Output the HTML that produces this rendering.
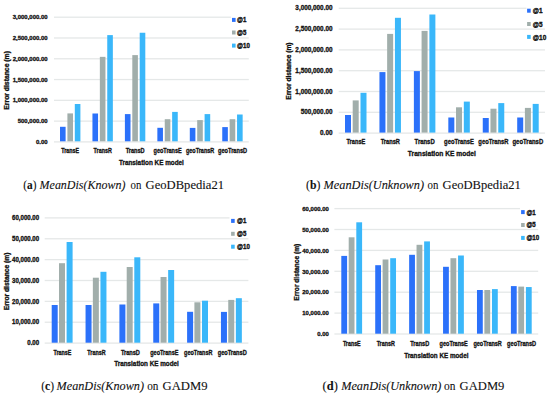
<!DOCTYPE html>
<html><head><meta charset="utf-8"><style>
html,body{margin:0;padding:0;background:#fff;}
body{width:550px;height:396px;overflow:hidden;}
svg{display:block;}
text{stroke:#111;stroke-width:0.3px;font-family:"Liberation Sans",sans-serif;}
text.cap{stroke:#111;stroke-width:0.1px;font-family:"Liberation Serif",serif;}
text.leg{stroke-width:0.35px;}
</style></head><body>
<svg width="550" height="396" viewBox="0 0 550 396">
<rect width="550" height="396" fill="#fff"/>
<g font-weight="bold" fill="#111">
<rect x="54.00" y="141.25" width="194.80" height="1.3" fill="#e5e8e8"/>
<text x="35.99" y="143.94" font-size="6.22" textLength="11.71" lengthAdjust="spacingAndGlyphs">0.00</text>
<rect x="54.00" y="120.47" width="194.80" height="1.3" fill="#e5e8e8"/>
<text x="17.69" y="123.16" font-size="6.22" textLength="30.01" lengthAdjust="spacingAndGlyphs">500,000.00</text>
<rect x="54.00" y="99.68" width="194.80" height="1.3" fill="#e5e8e8"/>
<text x="12.68" y="102.37" font-size="6.22" textLength="35.02" lengthAdjust="spacingAndGlyphs">1,000,000.00</text>
<rect x="54.00" y="78.90" width="194.80" height="1.3" fill="#e5e8e8"/>
<text x="12.68" y="81.59" font-size="6.22" textLength="35.02" lengthAdjust="spacingAndGlyphs">1,500,000.00</text>
<rect x="54.00" y="58.12" width="194.80" height="1.3" fill="#e5e8e8"/>
<text x="12.68" y="60.81" font-size="6.22" textLength="35.02" lengthAdjust="spacingAndGlyphs">2,000,000.00</text>
<rect x="54.00" y="37.33" width="194.80" height="1.3" fill="#e5e8e8"/>
<text x="12.68" y="40.02" font-size="6.22" textLength="35.02" lengthAdjust="spacingAndGlyphs">2,500,000.00</text>
<rect x="54.00" y="16.55" width="177.00" height="1.3" fill="#e5e8e8"/>
<text x="12.68" y="19.24" font-size="6.22" textLength="35.02" lengthAdjust="spacingAndGlyphs">3,000,000.00</text>
<rect x="60.00" y="126.80" width="5.60" height="14.50" fill="#2b71fa"/>
<rect x="67.40" y="113.40" width="5.60" height="27.90" fill="#a1aeab"/>
<rect x="74.80" y="104.00" width="5.60" height="37.30" fill="#3ab7fa"/>
<text x="61.33" y="153.30" font-size="6.40" textLength="17.80" lengthAdjust="spacingAndGlyphs">TransE</text>
<rect x="92.45" y="113.50" width="5.60" height="27.80" fill="#2b71fa"/>
<rect x="99.85" y="56.85" width="5.60" height="84.45" fill="#a1aeab"/>
<rect x="107.25" y="35.10" width="5.60" height="106.20" fill="#3ab7fa"/>
<text x="93.60" y="153.30" font-size="6.40" textLength="18.20" lengthAdjust="spacingAndGlyphs">TransR</text>
<rect x="124.90" y="114.10" width="5.60" height="27.20" fill="#2b71fa"/>
<rect x="132.30" y="55.10" width="5.60" height="86.20" fill="#a1aeab"/>
<rect x="139.70" y="32.75" width="5.60" height="108.55" fill="#3ab7fa"/>
<text x="125.67" y="153.30" font-size="6.40" textLength="19.00" lengthAdjust="spacingAndGlyphs">TransD</text>
<rect x="157.35" y="127.80" width="5.60" height="13.50" fill="#2b71fa"/>
<rect x="164.75" y="119.20" width="5.60" height="22.10" fill="#a1aeab"/>
<rect x="172.15" y="111.90" width="5.60" height="29.40" fill="#3ab7fa"/>
<text x="153.53" y="153.30" font-size="6.40" textLength="28.20" lengthAdjust="spacingAndGlyphs">geoTransE</text>
<rect x="189.80" y="127.90" width="5.60" height="13.40" fill="#2b71fa"/>
<rect x="197.20" y="120.10" width="5.60" height="21.20" fill="#a1aeab"/>
<rect x="204.60" y="114.10" width="5.60" height="27.20" fill="#3ab7fa"/>
<text x="185.90" y="153.30" font-size="6.40" textLength="28.40" lengthAdjust="spacingAndGlyphs">geoTransR</text>
<rect x="222.25" y="127.10" width="5.60" height="14.20" fill="#2b71fa"/>
<rect x="229.65" y="119.20" width="5.60" height="22.10" fill="#a1aeab"/>
<rect x="237.05" y="114.50" width="5.60" height="26.80" fill="#3ab7fa"/>
<text x="218.07" y="153.30" font-size="6.40" textLength="29.00" lengthAdjust="spacingAndGlyphs">geoTransD</text>
<text x="118.90" y="165.18" font-size="6.90" textLength="65.00" lengthAdjust="spacingAndGlyphs">Translation KE model</text>
<text transform="translate(9.10,109.70) rotate(-90)" font-size="6.40" textLength="58.60" lengthAdjust="spacingAndGlyphs">Error distance (m)</text>
<rect x="232.00" y="17.90" width="3.6" height="4" fill="#2b71fa"/>
<text class="leg" x="237.00" y="22.38" font-size="6.90" textLength="9.30" lengthAdjust="spacingAndGlyphs">@1</text>
<rect x="232.00" y="30.50" width="3.6" height="4" fill="#a1aeab"/>
<text class="leg" x="237.00" y="34.98" font-size="6.90" textLength="9.30" lengthAdjust="spacingAndGlyphs">@5</text>
<rect x="232.00" y="43.60" width="3.6" height="4" fill="#3ab7fa"/>
<text class="leg" x="237.00" y="48.08" font-size="6.90" textLength="12.80" lengthAdjust="spacingAndGlyphs">@10</text>
<text class="cap" x="23.20" y="188.60" font-size="12.4" font-weight="normal" fill="#111" textLength="13.20" lengthAdjust="spacingAndGlyphs">(<tspan font-weight="bold">a</tspan>)</text>
<text class="cap" x="39.60" y="188.60" font-size="12.4" font-weight="normal" font-style="italic" fill="#111" textLength="85.80" lengthAdjust="spacingAndGlyphs">MeanDis(Known)</text>
<text class="cap" x="130.60" y="188.60" font-size="12.4" font-weight="normal" fill="#111" textLength="10.80" lengthAdjust="spacingAndGlyphs">on</text>
<text class="cap" x="145.60" y="188.60" font-size="12.4" font-weight="normal" fill="#111" textLength="78.40" lengthAdjust="spacingAndGlyphs">GeoDBpedia21</text>
<rect x="338.70" y="132.45" width="206.30" height="1.3" fill="#e5e8e8"/>
<text x="320.07" y="135.23" font-size="6.60" textLength="12.43" lengthAdjust="spacingAndGlyphs">0.00</text>
<rect x="338.70" y="111.65" width="206.30" height="1.3" fill="#e5e8e8"/>
<text x="300.66" y="114.43" font-size="6.60" textLength="31.84" lengthAdjust="spacingAndGlyphs">500,000.00</text>
<rect x="338.70" y="90.85" width="206.30" height="1.3" fill="#e5e8e8"/>
<text x="295.35" y="93.63" font-size="6.60" textLength="37.15" lengthAdjust="spacingAndGlyphs">1,000,000.00</text>
<rect x="338.70" y="70.05" width="206.30" height="1.3" fill="#e5e8e8"/>
<text x="295.35" y="72.83" font-size="6.60" textLength="37.15" lengthAdjust="spacingAndGlyphs">1,500,000.00</text>
<rect x="338.70" y="49.25" width="206.30" height="1.3" fill="#e5e8e8"/>
<text x="295.35" y="52.03" font-size="6.60" textLength="37.15" lengthAdjust="spacingAndGlyphs">2,000,000.00</text>
<rect x="338.70" y="28.45" width="206.30" height="1.3" fill="#e5e8e8"/>
<text x="295.35" y="31.23" font-size="6.60" textLength="37.15" lengthAdjust="spacingAndGlyphs">2,500,000.00</text>
<rect x="338.70" y="7.65" width="187.80" height="1.3" fill="#e5e8e8"/>
<text x="295.35" y="10.43" font-size="6.60" textLength="37.15" lengthAdjust="spacingAndGlyphs">3,000,000.00</text>
<rect x="345.00" y="115.00" width="6.00" height="17.60" fill="#2b71fa"/>
<rect x="352.70" y="100.40" width="6.00" height="32.20" fill="#a1aeab"/>
<rect x="360.50" y="92.80" width="6.00" height="39.80" fill="#3ab7fa"/>
<text x="346.46" y="144.44" font-size="6.78" textLength="18.87" lengthAdjust="spacingAndGlyphs">TransE</text>
<rect x="379.44" y="72.10" width="6.00" height="60.50" fill="#2b71fa"/>
<rect x="387.14" y="33.90" width="6.00" height="98.70" fill="#a1aeab"/>
<rect x="394.94" y="17.80" width="6.00" height="114.80" fill="#3ab7fa"/>
<text x="380.63" y="144.44" font-size="6.78" textLength="19.29" lengthAdjust="spacingAndGlyphs">TransR</text>
<rect x="413.88" y="71.10" width="6.00" height="61.50" fill="#2b71fa"/>
<rect x="421.58" y="30.90" width="6.00" height="101.70" fill="#a1aeab"/>
<rect x="429.38" y="14.50" width="6.00" height="118.10" fill="#3ab7fa"/>
<text x="414.59" y="144.44" font-size="6.78" textLength="20.14" lengthAdjust="spacingAndGlyphs">TransD</text>
<rect x="448.32" y="117.50" width="6.00" height="15.10" fill="#2b71fa"/>
<rect x="456.02" y="107.30" width="6.00" height="25.30" fill="#a1aeab"/>
<rect x="463.82" y="101.60" width="6.00" height="31.00" fill="#3ab7fa"/>
<text x="444.10" y="144.44" font-size="6.78" textLength="29.89" lengthAdjust="spacingAndGlyphs">geoTransE</text>
<rect x="482.76" y="118.00" width="6.00" height="14.60" fill="#2b71fa"/>
<rect x="490.46" y="108.70" width="6.00" height="23.90" fill="#a1aeab"/>
<rect x="498.26" y="103.10" width="6.00" height="29.50" fill="#3ab7fa"/>
<text x="478.37" y="144.44" font-size="6.78" textLength="30.10" lengthAdjust="spacingAndGlyphs">geoTransR</text>
<rect x="517.20" y="117.50" width="6.00" height="15.10" fill="#2b71fa"/>
<rect x="524.90" y="107.90" width="6.00" height="24.70" fill="#a1aeab"/>
<rect x="532.70" y="103.90" width="6.00" height="28.70" fill="#3ab7fa"/>
<text x="512.44" y="144.44" font-size="6.78" textLength="30.74" lengthAdjust="spacingAndGlyphs">geoTransD</text>
<text x="407.85" y="156.48" font-size="6.90" textLength="68.00" lengthAdjust="spacingAndGlyphs">Translation KE model</text>
<text transform="translate(291.20,99.70) rotate(-90)" font-size="6.40" textLength="57.20" lengthAdjust="spacingAndGlyphs">Error distance (m)</text>
<rect x="527.10" y="8.70" width="3.6" height="4" fill="#2b71fa"/>
<text class="leg" x="532.80" y="13.31" font-size="7.25" textLength="9.77" lengthAdjust="spacingAndGlyphs">@1</text>
<rect x="527.10" y="22.00" width="3.6" height="4" fill="#a1aeab"/>
<text class="leg" x="532.80" y="26.61" font-size="7.25" textLength="9.77" lengthAdjust="spacingAndGlyphs">@5</text>
<rect x="527.10" y="34.90" width="3.6" height="4" fill="#3ab7fa"/>
<text class="leg" x="532.80" y="39.51" font-size="7.25" textLength="13.44" lengthAdjust="spacingAndGlyphs">@10</text>
<text class="cap" x="306.00" y="188.60" font-size="12.4" font-weight="normal" fill="#111" textLength="14.40" lengthAdjust="spacingAndGlyphs">(<tspan font-weight="bold">b</tspan>)</text>
<text class="cap" x="323.60" y="188.60" font-size="12.4" font-weight="normal" font-style="italic" fill="#111" textLength="100.40" lengthAdjust="spacingAndGlyphs">MeanDis(Unknown)</text>
<text class="cap" x="427.60" y="188.60" font-size="12.4" font-weight="normal" fill="#111" textLength="10.80" lengthAdjust="spacingAndGlyphs">on</text>
<text class="cap" x="442.60" y="188.60" font-size="12.4" font-weight="normal" fill="#111" textLength="78.20" lengthAdjust="spacingAndGlyphs">GeoDBpedia21</text>
<rect x="44.70" y="342.45" width="203.70" height="1.3" fill="#e5e8e8"/>
<text x="27.25" y="345.27" font-size="6.30" textLength="11.85" lengthAdjust="spacingAndGlyphs">0.00</text>
<rect x="44.70" y="321.58" width="203.70" height="1.3" fill="#e5e8e8"/>
<text x="12.09" y="324.40" font-size="6.30" textLength="27.01" lengthAdjust="spacingAndGlyphs">10,000.00</text>
<rect x="44.70" y="300.72" width="203.70" height="1.3" fill="#e5e8e8"/>
<text x="12.09" y="303.53" font-size="6.30" textLength="27.01" lengthAdjust="spacingAndGlyphs">20,000.00</text>
<rect x="44.70" y="279.85" width="203.70" height="1.3" fill="#e5e8e8"/>
<text x="12.09" y="282.67" font-size="6.30" textLength="27.01" lengthAdjust="spacingAndGlyphs">30,000.00</text>
<rect x="44.70" y="258.98" width="203.70" height="1.3" fill="#e5e8e8"/>
<text x="12.09" y="261.80" font-size="6.30" textLength="27.01" lengthAdjust="spacingAndGlyphs">40,000.00</text>
<rect x="44.70" y="238.12" width="203.70" height="1.3" fill="#e5e8e8"/>
<text x="12.09" y="240.93" font-size="6.30" textLength="27.01" lengthAdjust="spacingAndGlyphs">50,000.00</text>
<rect x="44.70" y="217.25" width="184.80" height="1.3" fill="#e5e8e8"/>
<text x="12.09" y="220.07" font-size="6.30" textLength="27.01" lengthAdjust="spacingAndGlyphs">60,000.00</text>
<rect x="51.70" y="305.00" width="6.00" height="37.70" fill="#2b71fa"/>
<rect x="59.00" y="263.20" width="6.00" height="79.50" fill="#a1aeab"/>
<rect x="66.60" y="242.00" width="6.00" height="100.70" fill="#3ab7fa"/>
<text x="53.57" y="354.50" font-size="6.40" textLength="17.80" lengthAdjust="spacingAndGlyphs">TransE</text>
<rect x="85.55" y="305.00" width="6.00" height="37.70" fill="#2b71fa"/>
<rect x="92.85" y="277.70" width="6.00" height="65.00" fill="#a1aeab"/>
<rect x="100.45" y="271.80" width="6.00" height="70.90" fill="#3ab7fa"/>
<text x="87.33" y="354.50" font-size="6.40" textLength="18.20" lengthAdjust="spacingAndGlyphs">TransR</text>
<rect x="119.40" y="304.50" width="6.00" height="38.20" fill="#2b71fa"/>
<rect x="126.70" y="267.00" width="6.00" height="75.70" fill="#a1aeab"/>
<rect x="134.30" y="257.30" width="6.00" height="85.40" fill="#3ab7fa"/>
<text x="120.88" y="354.50" font-size="6.40" textLength="19.00" lengthAdjust="spacingAndGlyphs">TransD</text>
<rect x="153.25" y="303.40" width="6.00" height="39.30" fill="#2b71fa"/>
<rect x="160.55" y="277.00" width="6.00" height="65.70" fill="#a1aeab"/>
<rect x="168.15" y="270.00" width="6.00" height="72.70" fill="#3ab7fa"/>
<text x="150.22" y="354.50" font-size="6.40" textLength="28.20" lengthAdjust="spacingAndGlyphs">geoTransE</text>
<rect x="187.10" y="311.80" width="6.00" height="30.90" fill="#2b71fa"/>
<rect x="194.40" y="302.30" width="6.00" height="40.40" fill="#a1aeab"/>
<rect x="202.00" y="300.70" width="6.00" height="42.00" fill="#3ab7fa"/>
<text x="184.08" y="354.50" font-size="6.40" textLength="28.40" lengthAdjust="spacingAndGlyphs">geoTransR</text>
<rect x="220.95" y="311.90" width="6.00" height="30.80" fill="#2b71fa"/>
<rect x="228.25" y="299.90" width="6.00" height="42.80" fill="#a1aeab"/>
<rect x="235.85" y="298.20" width="6.00" height="44.50" fill="#3ab7fa"/>
<text x="217.73" y="354.50" font-size="6.40" textLength="29.00" lengthAdjust="spacingAndGlyphs">geoTransD</text>
<text x="114.25" y="366.08" font-size="6.90" textLength="64.60" lengthAdjust="spacingAndGlyphs">Translation KE model</text>
<text transform="translate(8.90,310.30) rotate(-90)" font-size="6.40" textLength="57.80" lengthAdjust="spacingAndGlyphs">Error distance (m)</text>
<rect x="231.10" y="218.90" width="3.6" height="4" fill="#2b71fa"/>
<text class="leg" x="237.10" y="223.38" font-size="6.90" textLength="9.30" lengthAdjust="spacingAndGlyphs">@1</text>
<rect x="231.10" y="231.80" width="3.6" height="4" fill="#a1aeab"/>
<text class="leg" x="237.10" y="236.28" font-size="6.90" textLength="9.30" lengthAdjust="spacingAndGlyphs">@5</text>
<rect x="231.10" y="244.70" width="3.6" height="4" fill="#3ab7fa"/>
<text class="leg" x="237.10" y="249.18" font-size="6.90" textLength="12.80" lengthAdjust="spacingAndGlyphs">@10</text>
<text class="cap" x="41.20" y="389.60" font-size="12.4" font-weight="normal" fill="#111" textLength="12.80" lengthAdjust="spacingAndGlyphs">(<tspan font-weight="bold">c</tspan>)</text>
<text class="cap" x="56.60" y="389.60" font-size="12.4" font-weight="normal" font-style="italic" fill="#111" textLength="87.40" lengthAdjust="spacingAndGlyphs">MeanDis(Known)</text>
<text class="cap" x="147.20" y="389.60" font-size="12.4" font-weight="normal" fill="#111" textLength="11.20" lengthAdjust="spacingAndGlyphs">on</text>
<text class="cap" x="162.60" y="389.60" font-size="12.4" font-weight="normal" fill="#111" textLength="45.00" lengthAdjust="spacingAndGlyphs">GADM9</text>
<rect x="334.40" y="333.35" width="203.80" height="1.3" fill="#e5e8e8"/>
<text x="317.18" y="336.22" font-size="6.17" textLength="11.62" lengthAdjust="spacingAndGlyphs">0.00</text>
<rect x="334.40" y="312.45" width="203.80" height="1.3" fill="#e5e8e8"/>
<text x="302.32" y="315.32" font-size="6.17" textLength="26.48" lengthAdjust="spacingAndGlyphs">10,000.00</text>
<rect x="334.40" y="291.55" width="203.80" height="1.3" fill="#e5e8e8"/>
<text x="302.32" y="294.42" font-size="6.17" textLength="26.48" lengthAdjust="spacingAndGlyphs">20,000.00</text>
<rect x="334.40" y="270.65" width="203.80" height="1.3" fill="#e5e8e8"/>
<text x="302.32" y="273.52" font-size="6.17" textLength="26.48" lengthAdjust="spacingAndGlyphs">30,000.00</text>
<rect x="334.40" y="249.75" width="203.80" height="1.3" fill="#e5e8e8"/>
<text x="302.32" y="252.62" font-size="6.17" textLength="26.48" lengthAdjust="spacingAndGlyphs">40,000.00</text>
<rect x="334.40" y="228.85" width="203.80" height="1.3" fill="#e5e8e8"/>
<text x="302.32" y="231.72" font-size="6.17" textLength="26.48" lengthAdjust="spacingAndGlyphs">50,000.00</text>
<rect x="334.40" y="207.95" width="185.60" height="1.3" fill="#e5e8e8"/>
<text x="302.32" y="210.82" font-size="6.17" textLength="26.48" lengthAdjust="spacingAndGlyphs">60,000.00</text>
<rect x="341.30" y="255.90" width="5.80" height="77.80" fill="#2b71fa"/>
<rect x="348.70" y="237.30" width="5.80" height="96.40" fill="#a1aeab"/>
<rect x="356.30" y="222.30" width="5.80" height="111.40" fill="#3ab7fa"/>
<text x="342.88" y="345.80" font-size="6.40" textLength="17.80" lengthAdjust="spacingAndGlyphs">TransE</text>
<rect x="375.22" y="265.20" width="5.80" height="68.50" fill="#2b71fa"/>
<rect x="382.62" y="259.50" width="5.80" height="74.20" fill="#a1aeab"/>
<rect x="390.22" y="258.20" width="5.80" height="75.50" fill="#3ab7fa"/>
<text x="376.65" y="345.80" font-size="6.40" textLength="18.20" lengthAdjust="spacingAndGlyphs">TransR</text>
<rect x="409.14" y="254.80" width="5.80" height="78.90" fill="#2b71fa"/>
<rect x="416.54" y="244.80" width="5.80" height="88.90" fill="#a1aeab"/>
<rect x="424.14" y="241.40" width="5.80" height="92.30" fill="#3ab7fa"/>
<text x="410.22" y="345.80" font-size="6.40" textLength="19.00" lengthAdjust="spacingAndGlyphs">TransD</text>
<rect x="443.06" y="266.80" width="5.80" height="66.90" fill="#2b71fa"/>
<rect x="450.46" y="258.20" width="5.80" height="75.50" fill="#a1aeab"/>
<rect x="458.06" y="255.50" width="5.80" height="78.20" fill="#3ab7fa"/>
<text x="439.58" y="345.80" font-size="6.40" textLength="28.20" lengthAdjust="spacingAndGlyphs">geoTransE</text>
<rect x="476.98" y="290.00" width="5.80" height="43.70" fill="#2b71fa"/>
<rect x="484.38" y="290.00" width="5.80" height="43.70" fill="#a1aeab"/>
<rect x="491.98" y="289.10" width="5.80" height="44.60" fill="#3ab7fa"/>
<text x="473.45" y="345.80" font-size="6.40" textLength="28.40" lengthAdjust="spacingAndGlyphs">geoTransR</text>
<rect x="510.90" y="286.10" width="5.80" height="47.60" fill="#2b71fa"/>
<rect x="518.30" y="286.60" width="5.80" height="47.10" fill="#a1aeab"/>
<rect x="525.90" y="287.05" width="5.80" height="46.65" fill="#3ab7fa"/>
<text x="507.12" y="345.80" font-size="6.40" textLength="29.00" lengthAdjust="spacingAndGlyphs">geoTransD</text>
<text x="404.15" y="357.58" font-size="6.90" textLength="64.30" lengthAdjust="spacingAndGlyphs">Translation KE model</text>
<text transform="translate(299.00,300.70) rotate(-90)" font-size="6.40" textLength="57.00" lengthAdjust="spacingAndGlyphs">Error distance (m)</text>
<rect x="521.10" y="210.10" width="3.6" height="4" fill="#2b71fa"/>
<text class="leg" x="526.40" y="214.58" font-size="6.90" textLength="9.30" lengthAdjust="spacingAndGlyphs">@1</text>
<rect x="521.10" y="223.00" width="3.6" height="4" fill="#a1aeab"/>
<text class="leg" x="526.40" y="227.48" font-size="6.90" textLength="9.30" lengthAdjust="spacingAndGlyphs">@5</text>
<rect x="521.10" y="235.90" width="3.6" height="4" fill="#3ab7fa"/>
<text class="leg" x="526.40" y="240.38" font-size="6.90" textLength="12.80" lengthAdjust="spacingAndGlyphs">@10</text>
<text class="cap" x="322.60" y="389.60" font-size="12.4" font-weight="normal" fill="#111" textLength="15.20" lengthAdjust="spacingAndGlyphs">(<tspan font-weight="bold">d</tspan>)</text>
<text class="cap" x="341.20" y="389.60" font-size="12.4" font-weight="normal" font-style="italic" fill="#111" textLength="100.20" lengthAdjust="spacingAndGlyphs">MeanDis(Unknown)</text>
<text class="cap" x="444.00" y="389.60" font-size="12.4" font-weight="normal" fill="#111" textLength="11.40" lengthAdjust="spacingAndGlyphs">on</text>
<text class="cap" x="459.60" y="389.60" font-size="12.4" font-weight="normal" fill="#111" textLength="44.80" lengthAdjust="spacingAndGlyphs">GADM9</text>
</g>
</svg>
</body></html>
